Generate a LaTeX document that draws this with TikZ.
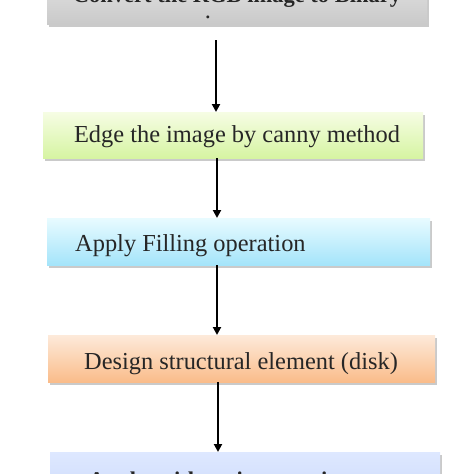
\documentclass[tikz,border=0pt]{standalone}
\usepackage{fontspec}
\setmainfont{Liberation Serif}
\usetikzlibrary{shadows,arrows.meta}
\tikzset{
  boxstyle/.style={draw=none, drop shadow={shadow xshift=1.5pt, shadow yshift=-2.5pt, opacity=0.35, fill=black!60}},
  conn/.style={line width=2pt, -{Triangle[length=8pt,width=8pt]}},
  txt/.style={font=\fontsize{24.4}{26}\selectfont, text=black!85, inner sep=0pt},
  cuttxt/.style={txt, font=\fontsize{22.5}{24}\selectfont\bfseries},
}
\begin{document}
\begin{tikzpicture}[x=1pt,y=-1pt]
\useasboundingbox (0,0) rectangle (474,474);
\clip (0,0) rectangle (474,474);
% top box (gray)
\node[boxstyle, top color=gray!18, bottom color=gray!42, minimum width=380pt, minimum height=60pt, anchor=south west] (b1) at (47,25) {};
\node[cuttxt, anchor=base] (t1) at (237,2) {Convert the RGB image to Binary};
\node[txt, anchor=base] (t1b) at (208,18) {.};
\coordinate (a1s) at (216,40);
% green
\node[boxstyle, top color={rgb,255:red,246;green,253;blue,228}, bottom color={rgb,255:red,214;green,244;blue,162}, minimum width=380pt, minimum height=46pt, anchor=north west] (b2) at (43,112) {};
\node[txt, anchor=base] (t2) at (237,142) {Edge the image by canny method};
% blue
\node[boxstyle, top color={rgb,255:red,232;green,251;blue,255}, bottom color={rgb,255:red,164;green,228;blue,250}, minimum width=383pt, minimum height=47pt, anchor=north west] (b3) at (47,218) {};
\node[txt, anchor=base west] (t3) at (75,251) {Apply Filling operation};
% orange
\node[boxstyle, top color={rgb,255:red,253;green,234;blue,218}, bottom color={rgb,255:red,250;green,188;blue,138}, minimum width=387pt, minimum height=47pt, anchor=north west] (b4) at (48,335) {};
\node[txt, anchor=base] (t4) at (241,369) {Design structural element (disk)};
% bottom box
\node[boxstyle, top color={rgb,255:red,222;green,232;blue,255}, bottom color={rgb,255:red,200;green,215;blue,250}, minimum width=390pt, minimum height=60pt, anchor=north west] (b5) at (50,452) {};
\node[cuttxt, anchor=base] (t5) at (247,487) {Apply arithmetic operation upon};
% arrows
\draw[conn] (a1s) -- (b2.north -| a1s);
\draw[conn] (b2.south -| 217,0) -- (b3.north -| 217,0);
\draw[conn] (b3.south -| 217,0) -- (b4.north -| 217,0);
\draw[conn] (b4.south -| 218,0) -- (b5.north -| 218,0);
\end{tikzpicture}
\end{document}
